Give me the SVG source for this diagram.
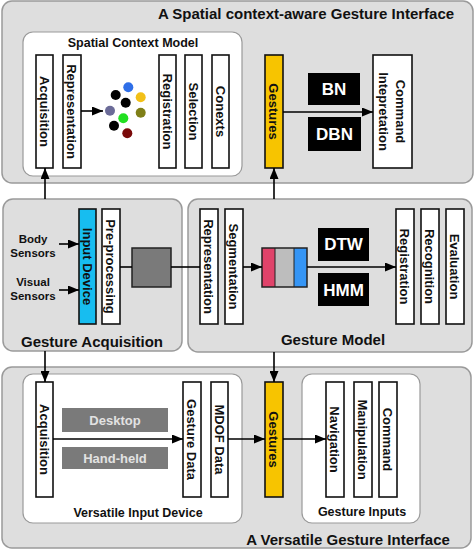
<svg xmlns="http://www.w3.org/2000/svg" width="474" height="550" viewBox="0 0 474 550">
<defs>
<marker id="ah" markerUnits="userSpaceOnUse" markerWidth="11" markerHeight="9" refX="11" refY="4.5" orient="auto">
<path d="M0,0 L11,4.5 L0,9 Z" fill="#000"/>
</marker>
<style>
.outer{fill:#dedede;stroke:#9a9a9a;stroke-width:1.5}
.inner{fill:#fff;stroke:#9a9a9a;stroke-width:1.2}
.box{fill:#fff;stroke:#111;stroke-width:1.6}
.t{font-family:"Liberation Sans",Arial,sans-serif;font-weight:bold;fill:#111}
.v{font-size:13px;text-anchor:middle}
.h{font-size:15px;text-anchor:middle}
.s{font-size:12.5px;text-anchor:middle}
.blk{fill:#000}
.bt{font-family:"Liberation Sans",Arial,sans-serif;font-weight:bold;font-size:17px;fill:#fff;text-anchor:middle}
.gt{font-family:"Liberation Sans",Arial,sans-serif;font-weight:bold;font-size:13px;fill:#e2e2e2;text-anchor:middle}
.c{stroke:#000;stroke-width:1.6;fill:none}
</style>
</defs>
<rect width="474" height="550" fill="#fff"/>

<g id="spatial-interface">
<rect class="outer" x="2" y="1" width="471" height="182" rx="10"/>
<text class="t h" x="306" y="19">A Spatial context-aware Gesture Interface</text>
</g>
<g id="spatial-context-model">
<rect class="inner" x="23" y="32" width="219" height="144" rx="10"/>
<text class="t s" x="133" y="47">Spatial Context Model</text>
</g>
<g id="scm-acquisition"><rect class="box" x="36" y="55" width="17" height="113"/><text class="t v" transform="translate(44.5,111.5) rotate(90)" y="4.6">Acquisition</text></g>
<g id="scm-representation"><rect class="box" x="63" y="55" width="18" height="113"/><text class="t v" transform="translate(72,111.5) rotate(90)" y="4.6">Representation</text></g>
<g id="dots">
<circle cx="128.3" cy="87.3" r="5" fill="#2f6fe8"/>
<circle cx="115.7" cy="95" r="5" fill="#000"/>
<circle cx="140.7" cy="97.3" r="5" fill="#f2c018"/>
<circle cx="125.7" cy="102.7" r="5" fill="#000"/>
<circle cx="110" cy="110.7" r="5" fill="#6b6b98"/>
<circle cx="140.7" cy="112.7" r="5" fill="#7f7f18"/>
<circle cx="123.3" cy="118.3" r="5" fill="#22e022"/>
<circle cx="114" cy="125.7" r="5" fill="#000"/>
<circle cx="127.3" cy="133.3" r="5" fill="#7a0a0a"/>
</g>
<g id="scm-registration"><rect class="box" x="159" y="55" width="17" height="113"/><text class="t v" transform="translate(167.5,111.5) rotate(90)" y="4.6">Registration</text></g>
<g id="scm-selection"><rect class="box" x="185" y="55" width="17" height="113"/><text class="t v" transform="translate(193.5,111.5) rotate(90)" y="4.6">Selection</text></g>
<g id="scm-conexts"><rect class="box" x="212" y="55" width="17" height="113"/><text class="t v" transform="translate(220.5,111.5) rotate(90)" y="4.6">Conexts</text></g>
<g id="top-gestures"><rect x="265" y="55" width="18" height="113" fill="#f7c400" stroke="#111" stroke-width="1.6"/><text class="t v" transform="translate(274,111.5) rotate(90)" y="4.6">Gestures</text></g>
<g id="bn"><rect class="blk" x="308" y="73" width="52" height="32"/><text class="bt" x="334" y="95">BN</text></g>
<g id="dbn"><rect class="blk" x="308" y="117" width="53" height="34"/><text class="bt" x="334.5" y="140">DBN</text></g>
<g id="command-interpretation"><rect class="box" x="373" y="55" width="39" height="113"/>
<text class="t v" transform="translate(392.5,111.5) rotate(90)"><tspan x="0" y="-3.8">Command</tspan><tspan x="0" y="13.2">Intepretation</tspan></text></g>

<g id="gesture-acquisition">
<rect class="outer" x="3" y="199" width="179" height="152" rx="10"/>
<text class="t h" x="92" y="347">Gesture Acquisition</text>
</g>
<g id="body-sensors"><text class="t" font-size="11.5" text-anchor="middle"><tspan x="33" y="243">Body</tspan><tspan x="33" y="257">Sensors</tspan></text></g>
<g id="visual-sensors"><text class="t" font-size="11.5" text-anchor="middle"><tspan x="33" y="286">Visual</tspan><tspan x="33" y="300">Sensors</tspan></text></g>
<g id="input-device"><rect x="79" y="209" width="17" height="115" fill="#17bdf0" stroke="#111" stroke-width="1.6"/><text class="t v" transform="translate(87.5,266.5) rotate(90)" y="4.6">Input Device</text></g>
<g id="pre-processing"><rect class="box" x="102" y="209" width="18" height="115"/><text class="t v" transform="translate(111,266.5) rotate(90)" y="4.6">Pre-processing</text></g>
<g id="gray-square"><rect x="132" y="248" width="39" height="39" fill="#7a7a7a" stroke="#222" stroke-width="1.5"/></g>

<g id="gesture-model">
<rect class="outer" x="188" y="199" width="284" height="153" rx="10"/>
<text class="t h" x="333" y="345">Gesture Model</text>
</g>
<g id="gm-representation"><rect class="box" x="200" y="209" width="18" height="115"/><text class="t v" transform="translate(209,266.5) rotate(90)" y="4.6">Representation</text></g>
<g id="gm-segmentation"><rect class="box" x="225" y="209" width="18" height="115"/><text class="t v" transform="translate(234,266.5) rotate(90)" y="4.6">Segmentation</text></g>
<g id="color-block">
<rect x="262" y="248" width="13" height="39" fill="#e0436a"/>
<rect x="275" y="248" width="19" height="39" fill="#bdbdbd"/>
<rect x="294" y="248" width="13" height="39" fill="#3595f5"/>
<rect x="262" y="248" width="45" height="39" fill="none" stroke="#222" stroke-width="1.5"/>
<line x1="275" y1="248" x2="275" y2="287" stroke="#222" stroke-width="1"/>
<line x1="294" y1="248" x2="294" y2="287" stroke="#222" stroke-width="1"/>
</g>
<g id="dtw"><rect class="blk" x="318" y="228" width="51" height="33"/><text class="bt" x="343.5" y="250">DTW</text></g>
<g id="hmm"><rect class="blk" x="318" y="273" width="51" height="33"/><text class="bt" x="343.5" y="295.5">HMM</text></g>
<g id="gm-registration"><rect class="box" x="396" y="209" width="18" height="115"/><text class="t v" transform="translate(405,266.5) rotate(90)" y="4.6">Registration</text></g>
<g id="gm-recognition"><rect class="box" x="421" y="209" width="18" height="115"/><text class="t v" transform="translate(430,266.5) rotate(90)" y="4.6">Recognition</text></g>
<g id="gm-evaluation"><rect class="box" x="446" y="209" width="18" height="115"/><text class="t v" transform="translate(455,266.5) rotate(90)" y="4.6">Evaluation</text></g>

<g id="versatile-interface">
<rect class="outer" x="2" y="367" width="469" height="181" rx="10"/>
<text class="t h" x="348" y="545">A Versatile Gesture Interface</text>
</g>
<g id="versatile-input-device">
<rect class="inner" x="23" y="374" width="219" height="149" rx="10"/>
<text class="t s" x="138" y="517">Versatile Input Device</text>
</g>
<g id="vid-acquisition"><rect class="box" x="36" y="382" width="17" height="115"/><text class="t v" transform="translate(44.5,439.5) rotate(90)" y="4.6">Acquisition</text></g>
<g id="desktop"><rect x="62" y="408" width="106" height="24" fill="#7a7a7a"/><text class="gt" x="115" y="424.5">Desktop</text></g>
<g id="hand-held"><rect x="62" y="447" width="106" height="22" fill="#7a7a7a"/><text class="gt" x="115" y="462.5">Hand-held</text></g>
<g id="gesture-data"><rect class="box" x="183" y="382" width="18" height="115"/><text class="t v" transform="translate(192,439.5) rotate(90)" y="4.6">Gesture Data</text></g>
<g id="mdof-data"><rect class="box" x="211" y="382" width="17" height="115"/><text class="t v" transform="translate(219.5,439.5) rotate(90)" y="4.6">MDOF Data</text></g>
<g id="bottom-gestures"><rect x="265" y="382" width="18" height="115" fill="#f7c400" stroke="#111" stroke-width="1.6"/><text class="t v" transform="translate(274,439.5) rotate(90)" y="4.6">Gestures</text></g>
<g id="gesture-inputs">
<rect class="inner" x="302" y="374" width="118" height="149" rx="10"/>
<text class="t s" x="362" y="516">Gesture Inputs</text>
</g>
<g id="navigation"><rect class="box" x="326" y="382" width="18" height="115"/><text class="t v" transform="translate(335,439.5) rotate(90)" y="4.6">Navigation</text></g>
<g id="manipulation"><rect class="box" x="354" y="382" width="18" height="115"/><text class="t v" transform="translate(363,439.5) rotate(90)" y="4.6">Manipulation</text></g>
<g id="command"><rect class="box" x="379" y="382" width="18" height="115"/><text class="t v" transform="translate(388,439.5) rotate(90)" y="4.6">Command</text></g>

<g id="connectors">
<line class="c" x1="45" y1="199" x2="45" y2="168" marker-end="url(#ah)"/>
<line class="c" x1="274" y1="199" x2="274" y2="168" marker-end="url(#ah)"/>
<line class="c" x1="45" y1="351" x2="45" y2="382" marker-end="url(#ah)"/>
<line class="c" x1="274" y1="352" x2="274" y2="382" marker-end="url(#ah)"/>
<line class="c" x1="81" y1="111" x2="103" y2="111" marker-end="url(#ah)"/>
<line class="c" x1="283" y1="112" x2="373" y2="112" marker-end="url(#ah)"/>
<line class="c" x1="59" y1="244" x2="79" y2="244" marker-end="url(#ah)"/>
<line class="c" x1="59" y1="290" x2="79" y2="290" marker-end="url(#ah)"/>
<line class="c" x1="120" y1="267" x2="132" y2="267"/>
<line class="c" x1="171" y1="267" x2="200" y2="267"/>
<line class="c" x1="243" y1="267" x2="262" y2="267" marker-end="url(#ah)"/>
<line class="c" x1="307" y1="267" x2="396" y2="267" marker-end="url(#ah)"/>
<line class="c" x1="53" y1="439" x2="183" y2="439" marker-end="url(#ah)"/>
<line class="c" x1="228" y1="439" x2="265" y2="439" marker-end="url(#ah)"/>
<line class="c" x1="283" y1="439" x2="326" y2="439" marker-end="url(#ah)"/>
</g>
</svg>
